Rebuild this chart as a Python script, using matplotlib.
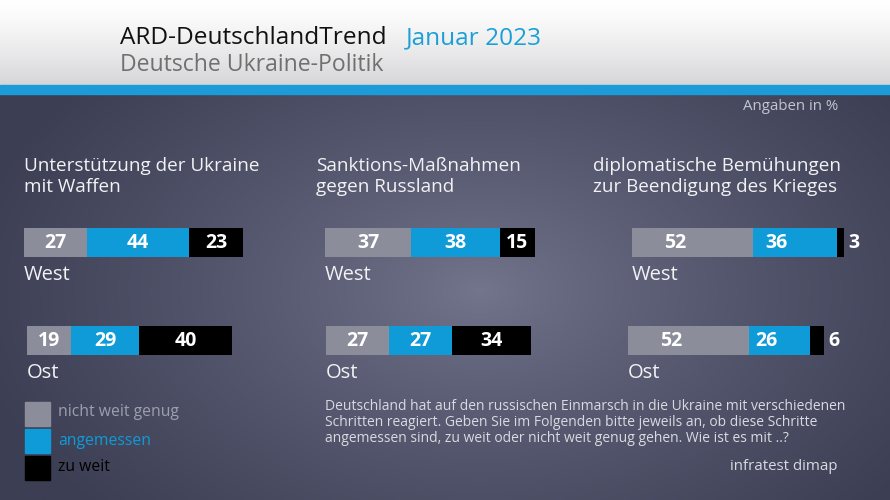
import numpy as np
import matplotlib
matplotlib.use("Agg")
import matplotlib.pyplot as plt
from matplotlib.patches import Rectangle

plt.rcParams['font.family'] = ['Open Sans', 'DejaVu Sans']

# data
topics = ["Unterstützung der Ukraine\nmit Waffen",
          "Sanktions-Maßnahmen\ngegen Russland",
          "diplomatische Bemühungen\nzur Beendigung des Krieges"]
regions = ["West", "Ost"]
categories = ["nicht weit genug", "angemessen", "zu weit"]
nicht_weit_genug = [[27, 19], [37, 27], [52, 52]]
angemessen = [[44, 29], [38, 27], [36, 26]]
zu_weit = [[23, 40], [15, 34], [3, 6]]

colors = ["#8c8d9b", "#0e9bd8", "#000000"]
legend_text_colors = ["#9d9fae", "#0e9bd8", "#000000"]

W, H = 890, 500
fig = plt.figure(figsize=(8.9, 5), dpi=100)

# background
bg = fig.add_axes([0, 0, 1, 1])
bg.set_xlim(0, W)
bg.set_ylim(H, 0)
bg.axis("off")

yy = np.linspace(0, 1, 90)[:, None] * np.ones((1, 10))
top = np.array([1.0, 1.0, 1.0])
bot = np.array([0.84, 0.84, 0.85])
head = top + (bot - top) * yy[..., None] ** 1.3
bg.imshow(head, extent=[0, W, 85, 0], aspect="auto", zorder=0)
bg.add_patch(Rectangle((0, 85), W, 9, color="#1b9bd7", zorder=1))

gx, gy = np.meshgrid(np.linspace(0, W, 300), np.linspace(94, H, 150))
d = np.sqrt(((gx - 480) / 520) ** 2 + ((gy - 290) / 330) ** 2)
d = np.clip(d, 0, 1)
c_in = np.array([0x73, 0x76, 0x8d]) / 255
c_out = np.array([0x3c, 0x3e, 0x54]) / 255
body = c_in + (c_out - c_in) * (d[..., None] ** 0.8)
bg.imshow(body, extent=[0, W, H, 94], aspect="auto", zorder=0)

# header texts
bg.text(120, 38, "ARD-DeutschlandTrend", fontsize=17.6, color="#111111", va="center", ha="left")
bg.text(406, 38, "Januar 2023", fontsize=17.6, color="#1a9fd8", va="center", ha="left")
bg.text(120, 65, "Deutsche Ukraine-Politik", fontsize=16.6, color="#707070", va="center", ha="left")
bg.text(838, 106, "Angaben in %", fontsize=10.8, color="#c3c5cf", va="center", ha="right")

# panels
title_x = [24, 316, 593]
bar_left = [[24, 27], [325, 326], [632, 628]]
bar_top = [228, 326]
bar_h = 29
px_per_unit = 2.33
label_frac = [[0.5, 0.5, 0.5], [0.5, 0.5, 0.5], [0.36, 0.28, 0.5]]

for p in range(3):
    bg.text(title_x[p], 176.5, topics[p], fontsize=13.6, color="#f2f2f4",
            va="center", ha="left", linespacing=1.2)
    for r in range(2):
        vals = [nicht_weit_genug[p][r], angemessen[p][r], zu_weit[p][r]]
        x0 = bar_left[p][r]
        ax = fig.add_axes([x0 / W, 1 - (bar_top[r] + bar_h) / H, 100 * px_per_unit / W, bar_h / H])
        ax.set_xlim(0, 100)
        ax.set_ylim(-0.5, 0.5)
        ax.axis("off")
        left = 0
        for k, v in enumerate(vals):
            ax.barh(0, v, left=left, height=1.0, color=colors[k])
            if v >= 10:
                ax.text(left + v * label_frac[p][k], 0, str(v), color="white", fontsize=14,
                        fontweight="bold", ha="center", va="center")
            else:
                ax.text(left + v + 2, 0, str(v), color="white", fontsize=14,
                        fontweight="bold", ha="left", va="center")
            left += v
        bg.text(x0, bar_top[r] + bar_h + 17.5, regions[r], fontsize=14.5, color="#f2f2f4",
                va="center", ha="left")

# legend
leg_y = [402, 429, 456]
leg_text_y = [412, 441, 467]
for k, name in enumerate(categories):
    bg.add_patch(Rectangle((25, leg_y[k]), 25, 24, color=colors[k], zorder=2))
    bg.text(58, leg_text_y[k], name, fontsize=11.3, color=legend_text_colors[k], va="center", ha="left")

note = ("Deutschland hat auf den russischen Einmarsch in die Ukraine mit verschiedenen\n"
        "Schritten reagiert. Geben Sie im Folgenden bitte jeweils an, ob diese Schritte\n"
        "angemessen sind, zu weit oder nicht weit genug gehen. Wie ist es mit ..?")
bg.text(325, 422.5, note, fontsize=10, color="#d9dae1", va="center", ha="left", linespacing=1.08)
bg.text(838, 466, "infratest dimap", fontsize=10.8, color="#d9dae1", va="center", ha="right")

fig.savefig("out.png", dpi=100)
